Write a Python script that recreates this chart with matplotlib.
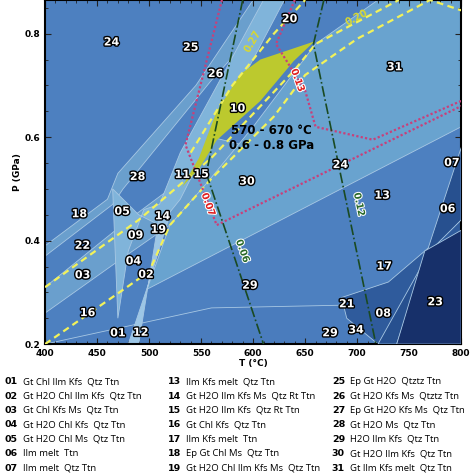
import matplotlib
matplotlib.use("Agg")
import matplotlib.pyplot as plt
from matplotlib.patches import Polygon
import matplotlib.patheffects as pe
from matplotlib.ticker import MultipleLocator

field_labels = ["24","25","26","20","31","10","28","11","15","30","24","13","07","06","18","05","14",
                "09","19","22","04","03","02","29","17","21","08","23","16","01","12","29","34"]
field_T = [464,540,564,635,736,585,489,532,550,594,684,724,791,787,433,474,513,487,509,436,485,436,497,597,726,690,725,775,441,470,492,674,699]
field_P = [0.783,0.773,0.722,0.828,0.735,0.655,0.523,0.527,0.528,0.514,0.546,0.487,0.550,0.461,0.451,0.456,0.447,
           0.410,0.421,0.390,0.360,0.333,0.334,0.313,0.350,0.277,0.259,0.281,0.260,0.221,0.222,0.221,0.227]

# field polygons (T, P)
light_T = [520,555,600,660,720,800,800,498]
light_P = [0.43,0.51,0.62,0.78,0.865,0.865,0.62,0.306]
band1_T = [400,460,470,545,600,630,560,475,465,400]
band1_P = [0.39,0.48,0.53,0.70,0.865,0.865,0.71,0.50,0.47,0.37]
band2_T = [400,470,520,560,600,560,520,480,400]
band2_P = [0.26,0.36,0.43,0.50,0.58,0.60,0.50,0.44,0.31]
band3_T = [465,490,510,530,560,600,630,610,560,530,510,495,480,470]
band3_P = [0.50,0.45,0.43,0.48,0.60,0.75,0.865,0.865,0.68,0.57,0.47,0.46,0.38,0.25]
band4_T = [480,500,520,510,490]
band4_P = [0.2,0.32,0.45,0.45,0.2]
dark1_T = [685,730,800,800,720,690]
dark1_P = [0.29,0.32,0.44,0.2,0.2,0.25]
dark2_T = [720,770,800,800,738]
dark2_P = [0.2,0.38,0.44,0.58,0.2]
darkest_T = [738,765,800,800]
darkest_P = [0.2,0.38,0.42,0.2]
low_T = [400,560,800,800,400]
low_P = [0.2,0.27,0.28,0.2,0.2]

zone_T = [525,548,565,588,607,659,639,607,565,549,532]
zone_P = [0.48,0.56,0.65,0.722,0.75,0.785,0.747,0.67,0.594,0.542,0.504]

yA_T = [400,490,560,640,660,740]
yA_P = [0.31,0.44,0.56,0.73,0.78,0.865]
yB_T = [400,500,520,560,620,650,700,770,800]
yB_P = [0.2,0.34,0.43,0.52,0.64,0.72,0.79,0.865,0.845]
yC_T = [540,580,620,650]
yC_P = [0.57,0.70,0.80,0.865]
r1_T = [570,535,565,800]
r1_P = [0.865,0.585,0.43,0.66]
r2_T = [640,622,650,660,715,800]
r2_P = [0.865,0.78,0.69,0.62,0.595,0.67]
g1_T = [590,555,610]
g1_P = [0.865,0.53,0.2]
g2_T = [668,658,718]
g2_P = [0.865,0.78,0.2]

legend_entries = [
 "01 Gt Chl Ilm Kfs  Qtz Ttn","02 Gt H2O Chl Ilm Kfs  Qtz Ttn","03 Gt Chl Kfs Ms  Qtz Ttn",
 "04 Gt H2O Chl Kfs  Qtz Ttn","05 Gt H2O Chl Ms  Qtz Ttn","06 Ilm melt  Ttn","07 Ilm melt  Qtz Ttn",
 "13 Ilm Kfs melt  Qtz Ttn","14 Gt H2O Ilm Kfs Ms  Qtz Rt Ttn","15 Gt H2O Ilm Kfs  Qtz Rt Ttn",
 "16 Gt Chl Kfs  Qtz Ttn","17 Ilm Kfs melt  Ttn","18 Ep Gt Chl Ms  Qtz Ttn","19 Gt H2O Chl Ilm Kfs Ms  Qtz Ttn",
 "25 Ep Gt H2O  Qtztz Ttn","26 Gt H2O Kfs Ms  Qtztz Ttn","27 Ep Gt H2O Kfs Ms  Qtz Ttn",
 "28 Gt H2O Ms  Qtz Ttn","29 H2O Ilm Kfs  Qtz Ttn","30 Gt H2O Ilm Kfs  Qtz Ttn","31 Gt Ilm Kfs melt  Qtz Ttn"]

fig = plt.figure(figsize=(4.74,4.74), dpi=100)
ax = fig.add_axes([0.095, 0.274, 0.878, 0.726])
ax.set_facecolor('#4d80c0')
ax.set_xlim(400,800); ax.set_ylim(0.2,0.865)

def poly(T,P,c,z=1):
    ax.add_patch(Polygon(list(zip(T,P)), closed=True, fc=c, ec='#a8c8e4', lw=0.6, zorder=z))

poly(low_T,low_P,'#4a7cbd',1)
poly(band1_T,band1_P,'#6a9fcd',1)
poly(band2_T,band2_P,'#6a9fcd',1)
poly(light_T,light_P,'#69a3cf',1)
poly(band3_T,band3_P,'#80b4da',2)
poly(band4_T,band4_P,'#9cc6e6',2)
poly(dark1_T,dark1_P,'#2f5b9c',2)
poly(dark2_T,dark2_P,'#27508f',3)
poly(darkest_T,darkest_P,'#17306a',4)
ax.add_patch(Polygon(list(zip(zone_T,zone_P)), closed=True, fc='#bcc92e', ec='none', zorder=5))

for T,P in [(yA_T,yA_P),(yB_T,yB_P),(yC_T,yC_P)]:
    ax.plot(T,P,color='#f2f25a',ls=(0,(3,2)),lw=1.6,zorder=6)
for T,P in [(r1_T,r1_P),(r2_T,r2_P)]:
    ax.plot(T,P,color='#c8407a',ls=(0,(1,1)),lw=1.6,zorder=6)
for T,P in [(g1_T,g1_P),(g2_T,g2_P)]:
    ax.plot(T,P,color='#1a4a22',ls='-.',lw=1.2,zorder=6)

stroke=[pe.withStroke(linewidth=2,foreground='black')]
for t,T,P in zip(field_labels,field_T,field_P):
    ax.text(T,P,t,color='white',fontsize=8,fontweight='bold',ha='center',va='center',path_effects=stroke,zorder=8)

ax.text(618,0.613,"570 - 670 °C",fontsize=8.5,fontweight='bold',ha='center',va='center',color='black',zorder=8)
ax.text(618,0.583,"0.6 - 0.8 GPa",fontsize=8.5,fontweight='bold',ha='center',va='center',color='black',zorder=8)
ws=[pe.withStroke(linewidth=1.5,foreground='white')]
ax.text(600,0.785,"0.27",color='#d8d830',fontsize=7,fontweight='bold',rotation=60,ha='center',va='center',zorder=8)
ax.text(700,0.83,"0.20",color='#d8d830',fontsize=7,fontweight='bold',rotation=28,ha='center',va='center',zorder=8)
ax.text(643,0.71,"0.13",color='#e02020',fontsize=7,fontweight='bold',rotation=-70,ha='center',va='center',path_effects=ws,zorder=8)
ax.text(557,0.47,"0.07",color='#e02020',fontsize=7,fontweight='bold',rotation=-70,ha='center',va='center',path_effects=ws,zorder=8)
ax.text(590,0.38,"0.06",color='#2a6a2a',fontsize=7,fontweight='bold',rotation=-70,ha='center',va='center',path_effects=ws,zorder=8)
ax.text(702,0.47,"0.12",color='#2a6a2a',fontsize=7,fontweight='bold',rotation=-78,ha='center',va='center',path_effects=ws,zorder=8)

ax.xaxis.set_major_locator(MultipleLocator(50)); ax.xaxis.set_minor_locator(MultipleLocator(10))
ax.yaxis.set_major_locator(MultipleLocator(0.2)); ax.yaxis.set_minor_locator(MultipleLocator(0.05))
ax.tick_params(which='both',direction='in',top=True,right=True,color='#222',labelsize=6.5)
ax.tick_params(which='major',length=4); ax.tick_params(which='minor',length=2)
for l in ax.get_xticklabels()+ax.get_yticklabels(): l.set_fontweight('bold')
ax.yaxis.set_major_formatter(matplotlib.ticker.FuncFormatter(lambda v,p: f"{v:.1f}"))
for s in ax.spines.values(): s.set_linewidth(1.5)
ax.set_xlabel("T (°C)",fontsize=6.5,fontweight='bold',labelpad=1)
ax.set_ylabel("P (GPa)",fontsize=6.5,fontweight='bold',labelpad=2)

cols_x=[0.01,0.355,0.70]
for i,e in enumerate(legend_entries):
    c=i//7; r=i%7
    num,rest=e[:2],e[3:]
    y=0.195-r*0.0305
    fig.text(cols_x[c],y,num,fontsize=6.8,fontweight='bold',va='center')
    fig.text(cols_x[c]+0.038,y,rest,fontsize=6.8,va='center',family='Open Sans')
fig.savefig("out.png",dpi=100)
